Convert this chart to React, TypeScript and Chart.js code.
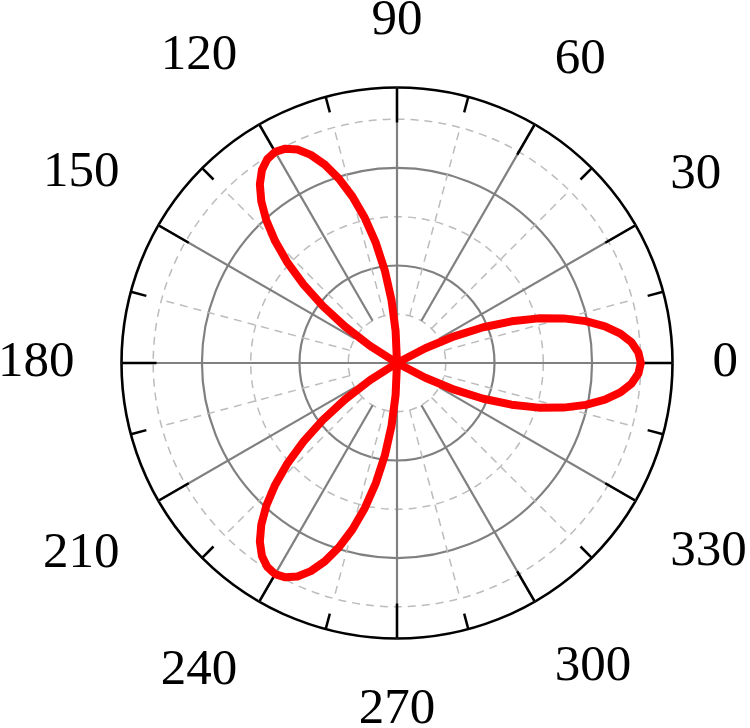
import React, { useEffect, useRef } from "react";
import { Chart, registerables } from "chart.js";

Chart.register(...registerables);

// ---- data ----
const ANGLE_STEP = 2.5;
// sampled angles (degrees, counter-clockwise from the 0 direction)
const angleCategories: number[] = Array.from({ length: 144 }, (_, i) => i * ANGLE_STEP);
// centres of the three petals (degrees)
const petalCentres = [0, 120, 240];
// radius along one petal, from -30deg to +30deg of its centre in 2.5deg steps
const petalRadii = [
  0, 0.131, 0.259, 0.383, 0.5, 0.609, 0.707, 0.793, 0.866, 0.924, 0.966, 0.991, 1.0,
  0.991, 0.966, 0.924, 0.866, 0.793, 0.707, 0.609, 0.5, 0.383, 0.259, 0.131, 0,
];
// angular tick labels
const angleTickLabels = [0, 30, 60, 90, 120, 150, 180, 210, 240, 270, 300, 330];
// radial grid rings
const solidRings = [0.4, 0.8];
const dashedRings = [0.2, 0.6, 1.0];
const radialMax = 1.13;
const radialStep = 0.2;

// ---- styles ----
const GRAY = "#808080";
const LIGHT = "#bcbcbc";
const DASH = [8, 6];
const LABEL_PAD: Record<string, number> = {
  "0": 40, "30": 40, "60": 40, "90": 36, "120": 44, "150": 45,
  "180": 47, "210": 45, "240": 44, "270": 41, "300": 40, "330": 40,
};

function radiusAt(theta: number): number {
  for (const c of petalCentres) {
    const d = ((theta - c + 540) % 360) - 180;
    if (Math.abs(d) <= 30) return petalRadii[Math.round(d / ANGLE_STEP) + 12];
  }
  return 0;
}

// Chart.js walks clockwise, so list the angles clockwise starting at 0
const chartAngles = angleCategories.map((_, i) => (360 - i * ANGLE_STEP) % 360);
const chartLabels = chartAngles.map((a) => String(a));
const chartRadii = chartAngles.map((a) => radiusAt(a));
const indexFor = (theta: number) => chartAngles.indexOf(((theta % 360) + 360) % 360);

const near = (a: number, b: number) => Math.abs(a - b) < 1e-6;

const spokePlugin = {
  id: "polarSpokes",
  beforeDatasetsDraw(chart: any) {
    const s = chart.scales.r;
    const ctx = chart.ctx as CanvasRenderingContext2D;
    ctx.save();
    ctx.lineCap = "butt";
    const outer = s.getDistanceFromCenterForValue(radialMax);
    for (let th = 0; th < 360; th += 15) {
      const idx = indexFor(th);
      const major = th % 30 === 0;
      const axis = th % 90 === 0;
      const startVal = axis ? 0 : dashedRings[0];
      const endVal = major ? radialMax : dashedRings[dashedRings.length - 1];
      const p0 = s.getPointPositionForValue(idx, startVal);
      const p1 = s.getPointPositionForValue(idx, endVal);
      ctx.beginPath();
      ctx.strokeStyle = major ? GRAY : LIGHT;
      ctx.lineWidth = major ? 2.2 : 1.5;
      ctx.setLineDash(major ? [] : DASH);
      ctx.moveTo(p0.x, p0.y);
      ctx.lineTo(p1.x, p1.y);
      ctx.stroke();
      // tick mark on the outer circle
      const len = major ? 35 : 16;
      const q0 = s.getPointPosition(idx, outer);
      const q1 = s.getPointPosition(idx, outer - len);
      ctx.beginPath();
      ctx.setLineDash([]);
      ctx.strokeStyle = "#000";
      ctx.lineWidth = 2.5;
      ctx.moveTo(q0.x, q0.y);
      ctx.lineTo(q1.x, q1.y);
      ctx.stroke();
    }
    ctx.restore();
  },
};

const SIZE = 799;

export default function App() {
  const ref = useRef<HTMLCanvasElement | null>(null);
  useEffect(() => {
    if (!ref.current) return;
    const chart = new Chart(ref.current, {
      type: "radar",
      data: {
        labels: chartLabels,
        datasets: [
          {
            data: chartRadii,
            borderColor: "#ff0000",
            borderWidth: 8,
            pointRadius: 0,
            fill: false,
            tension: 0,
          },
        ],
      },
      options: {
        animation: false,
        responsive: false,
        maintainAspectRatio: false,
        layout: { padding: 0 },
        plugins: { legend: { display: false }, tooltip: { enabled: false } },
        elements: { line: { borderJoinStyle: "round", borderCapStyle: "round" } },
        scales: {
          r: {
            min: 0,
            max: radialMax,
            startAngle: 90,
            ticks: { display: false, stepSize: radialStep },
            angleLines: { display: false },
            grid: {
              circular: true,
              color: (c: any) => {
                const v = c.tick ? c.tick.value : 0;
                if (near(v, radialMax)) return "#000";
                if (solidRings.some((r) => near(r, v))) return GRAY;
                return LIGHT;
              },
              lineWidth: (c: any) => {
                const v = c.tick ? c.tick.value : 0;
                if (near(v, radialMax)) return 2.6;
                if (solidRings.some((r) => near(r, v))) return 2.2;
                return 1.5;
              },
            },
            border: {
              dash: (c: any) => {
                const v = c.tick ? c.tick.value : 0;
                return dashedRings.some((r) => near(r, v)) ? DASH : [];
              },
            },
            pointLabels: {
              display: true,
              padding: (c: any) => LABEL_PAD[String(c.label)] ?? 40,
              color: "#000",
              font: { family: "Liberation Serif", size: 51 },
              callback: (label: string) =>
                angleTickLabels.includes(Number(label)) ? label : "",
            },
          },
        },
      },
      plugins: [spokePlugin],
    } as any);
    return () => chart.destroy();
  }, []);
  return (
    <div
      style={{
        position: "absolute",
        left: 0,
        top: 0,
        width: 750,
        height: 728,
        overflow: "hidden",
        background: "#fff",
      }}
    >
      <canvas
        ref={ref}
        width={SIZE}
        height={SIZE}
        style={{ position: "absolute", left: -31, top: -35, width: SIZE, height: SIZE }}
      />
    </div>
  );
}
